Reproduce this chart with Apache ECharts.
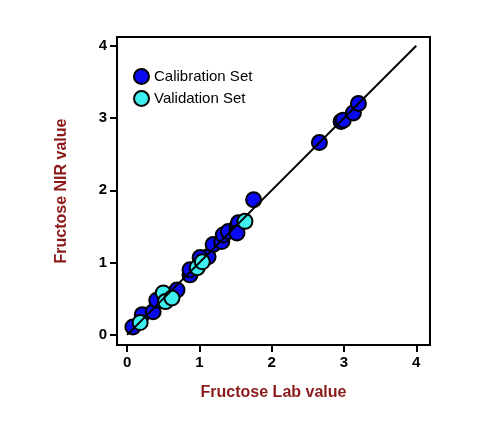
<!DOCTYPE html><html><head><meta charset="utf-8"><script src="https://cdn.jsdelivr.net/npm/echarts@6/dist/echarts.min.js"></script></head><body style="margin:0"><div id="c" style="width:480px;height:440px"></div><script>
const calibration=[[0.08,0.11],[0.21,0.28],[0.36,0.32],[0.41,0.48],[0.69,0.62],[0.87,0.83],[0.87,0.9],[1.12,1.08],[1.01,1.07],[1.19,1.25],[1.31,1.29],[1.33,1.38],[1.40,1.43],[1.52,1.5],[1.54,1.55],[1.52,1.41],[1.75,1.87],[2.66,2.66],[2.96,2.95],[2.99,2.97],[3.13,3.07],[3.2,3.2]];
const validation=[[0.18,0.17],[0.5,0.58],[0.53,0.46],[0.62,0.51],[0.97,0.93],[1.04,1.01],[1.63,1.57]];
const ticks=[0,1,2,3,4];
const identity=[[0,0],[4,4]];
const ax=(name,min,max,gap)=>({type:'value',min,max,name,nameLocation:'middle',nameGap:gap,
 nameTextStyle:{color:'#8B1A1A',fontWeight:'bold',fontSize:16,fontFamily:'Liberation Sans'},
 axisLine:{onZero:false,lineStyle:{color:'#000',width:2}},splitLine:{show:false},
 axisTick:{customValues:ticks,length:7,lineStyle:{color:'#000',width:2}},
 axisLabel:{customValues:ticks,color:'#000',fontWeight:'bold',fontSize:15,margin:10,fontFamily:'Liberation Sans'}});
const ch=echarts.init(document.getElementById('c'));
ch.setOption({animation:false,
grid:{left:117,right:50,top:37,bottom:95,show:true,borderColor:'#000',borderWidth:2},
xAxis:ax('Fructose Lab value',-0.14,4.19,40),
yAxis:ax('Fructose NIR value',-0.14,4.12,47),
legend:{left:128,top:63,orient:'vertical',itemGap:5,icon:'circle',itemWidth:15,itemHeight:15,
 textStyle:{fontSize:15,fontFamily:'Liberation Sans',color:'#000'},data:['Calibration Set','Validation Set']},
series:[
{type:'line',data:identity,symbol:'none',lineStyle:{color:'#000',width:2},silent:true},
{name:'Calibration Set',type:'scatter',data:calibration,symbolSize:15,itemStyle:{color:'#0a0af0',borderColor:'#000',borderWidth:2,opacity:1}},
{name:'Validation Set',type:'scatter',data:validation,symbolSize:15,itemStyle:{color:'#40f0f0',borderColor:'#000',borderWidth:2,opacity:1}}
]});
</script></body></html>
